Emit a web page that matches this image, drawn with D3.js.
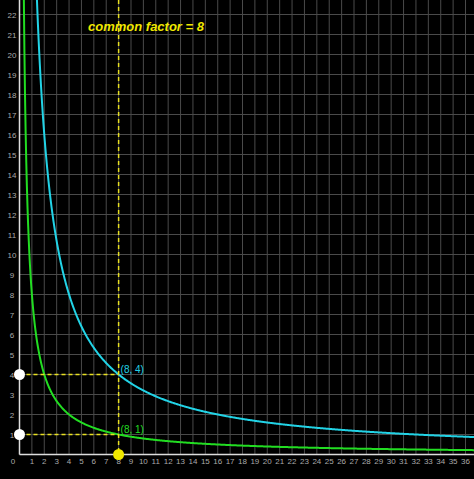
<!DOCTYPE html><html><head><meta charset="utf-8"><script src="https://cdn.jsdelivr.net/npm/d3@7"></script>
<style>body{margin:0;background:#000}</style></head><body><svg id="c" width="474" height="479"></svg>
<script>
const xTicks=d3.range(0,37);
const yTicks=d3.range(0,23);
const factor=8;
const products=[32,8];
const curveColors=["#22d3e6","#22dd22"];
const labels=["(8, 4)","(8, 1)"];
const pointY=[4,1];
const title="common factor = 8";
const svg=d3.select("#c");
svg.append("rect").attr("width",474).attr("height",479).attr("fill","#000");
const x=d3.scaleLinear().domain([0,36]).range([19.5,465.5]);
const y=d3.scaleLinear().domain([0,22]).range([454.5,14.5]);
const g=svg.append("g");
d3.range(0,39).forEach(i=>g.append("line").attr("x1",x(i)).attr("x2",x(i)).attr("y1",0).attr("y2",y(0)).attr("stroke","#4a4a4a"));
d3.range(0,24).forEach(j=>g.append("line").attr("x1",x(0)).attr("x2",474).attr("y1",y(j)).attr("y2",y(j)).attr("stroke","#4a4a4a"));
g.append("line").attr("x1",x(0)).attr("x2",x(0)).attr("y1",0).attr("y2",y(0)).attr("stroke","#ddd").attr("stroke-width",1.5);
g.append("line").attr("x1",x(0)).attr("x2",474).attr("y1",y(0)).attr("y2",y(0)).attr("stroke","#ddd").attr("stroke-width",1.5);
xTicks.forEach(t=>svg.append("text").attr("x",t===0?13:x(t)).attr("y",464).attr("text-anchor","middle").attr("fill","#aaa").attr("font-size",8).attr("font-family","Liberation Sans").text(t));
yTicks.slice(1).forEach(t=>svg.append("text").attr("x",12).attr("y",y(t)+3).attr("text-anchor","middle").attr("fill","#aaa").attr("font-size",8).attr("font-family","Liberation Sans").text(t));
products.forEach((p,i)=>{
 const pts=d3.range(p/23,37.5,0.05).map(v=>[v,p/v]);
 svg.append("path").attr("d",d3.line().x(d=>x(d[0])).y(d=>y(Math.min(d[1],23))).curve(d3.curveLinear)(pts)).attr("fill","none").attr("stroke",curveColors[i]).attr("stroke-width",2);
});
// dashed guides
svg.append("line").attr("x1",x(factor)).attr("x2",x(factor)).attr("y1",0).attr("y2",y(0)).attr("stroke","#e8e020").attr("stroke-width",1.5).attr("stroke-dasharray","4,3");
pointY.forEach((v,i)=>{
 svg.append("line").attr("x1",x(0)).attr("x2",x(factor)).attr("y1",y(v)).attr("y2",y(v)).attr("stroke","#e8e020").attr("stroke-width",1.5).attr("stroke-dasharray","4,3");
 svg.append("text").attr("x",x(factor)+2).attr("y",y(v)-2).attr("fill",curveColors[i]).attr("font-size",10).attr("font-family","Liberation Sans").text(labels[i]);
 svg.append("circle").attr("cx",x(0)).attr("cy",y(v)).attr("r",5.5).attr("fill","#fff");
});
svg.append("circle").attr("cx",x(factor)).attr("cy",y(0)).attr("r",5.5).attr("fill","#f0e800");
svg.append("text").attr("x",146).attr("y",31).attr("text-anchor","middle").attr("fill","#f0e800").attr("font-size",13).attr("font-weight","bold").attr("font-style","italic").attr("font-family","Liberation Sans").text(title);
</script></body></html>
